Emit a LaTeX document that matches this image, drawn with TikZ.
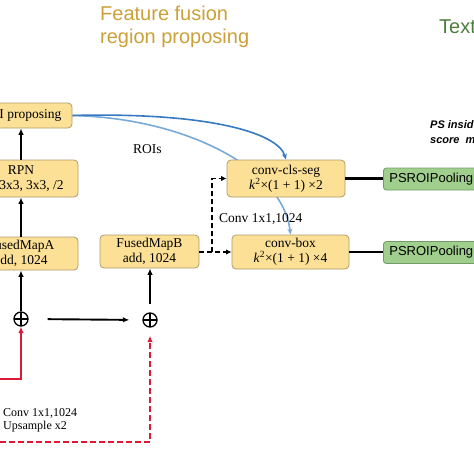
\documentclass[tikz,border=0pt]{standalone}
\usepackage{fontspec}
\setmainfont{Liberation Serif}
\newfontfamily\sansf{Liberation Sans}
\usetikzlibrary{arrows.meta,backgrounds}
\definecolor{boxfill}{RGB}{252,224,150}
\definecolor{boxdraw}{RGB}{175,155,110}
\definecolor{gfill}{RGB}{160,206,140}
\definecolor{gdraw}{RGB}{115,155,105}
\definecolor{titlegold}{RGB}{203,160,55}
\definecolor{titlegreen}{RGB}{75,125,60}
\definecolor{redline}{RGB}{220,25,55}
\definecolor{bluedark}{RGB}{55,122,195}
\definecolor{bluelight}{RGB}{120,170,215}
\begin{document}
\begin{tikzpicture}[x=1pt,y=-1pt,
  ybox/.style={draw=boxdraw, fill=boxfill, rounded corners=4pt, line width=0.8pt,
    align=center, font=\fontsize{13.5}{15}\selectfont, inner sep=0pt},
  gbox/.style={draw=gdraw, fill=gfill, rounded corners=3pt, line width=0.8pt,
    font=\sansf\fontsize{13}{15}\selectfont, anchor=west, minimum height=22pt,
    inner xsep=6pt, inner ysep=0pt},
  arr/.style={-{Latex[length=6.5pt,width=5.5pt]}, line width=1.9pt},
  darr/.style={-{Latex[length=5.5pt,width=5.5pt]}, line width=1.9pt, dash pattern=on 5pt off 3pt},
  redarr/.style={-{Latex[length=6.5pt,width=5.5pt]}, line width=1.9pt, draw=redline},
  curvedark/.style={-{Stealth[length=6pt,width=5pt]}, line width=1.6pt, draw=bluedark},
  curvelight/.style={-{Stealth[length=6pt,width=5pt]}, line width=1.6pt, draw=bluelight},
  opl/.style={circle, draw, line width=1.3pt, minimum size=14pt, inner sep=0pt,
    path picture={\draw[line width=1.3pt] (path picture bounding box.north) -- (path picture bounding box.south)
      (path picture bounding box.west) -- (path picture bounding box.east);}},
  lbl/.style={anchor=base west, inner sep=0pt, font=\fontsize{13.5}{15}\selectfont},
  title/.style={anchor=base west, inner sep=0pt, font=\sansf\fontsize{20}{23}\selectfont}
]
\useasboundingbox (0,0) rectangle (474,474);

% titles
\node[title, text=titlegold] (t1) at (100,20) {Feature fusion};
\node[title, text=titlegold] (t2) at (100,43) {region proposing};
\node[title, text=titlegreen] (t3) at (439,33) {Text};
\node[anchor=base west, inner sep=0pt, font=\sansf\bfseries\itshape\fontsize{11}{13}\selectfont] (ps1t) at (430,128) {PS inside};
\node[anchor=base west, inner sep=0pt, font=\sansf\bfseries\itshape\fontsize{11}{13}\selectfont] (ps2t) at (430,143) {score\ \ map};

% boxes
\node[ybox, minimum width=102pt, minimum height=25pt] (roi) at (21,115.5) {ROI proposing};
\node[ybox, minimum width=114pt, minimum height=37pt] (rpn) at (21,178.5) {RPN\\\hspace*{21pt}3x3, 3x3, /2};
\node[ybox, minimum width=114pt, minimum height=33pt] (fma) at (21,253.5) {FusedMapA\\add, 1024};
\node[ybox, minimum width=99pt, minimum height=33pt] (fmb) at (149.5,251.5) {FusedMapB\\add, 1024};
\node[ybox, minimum width=118pt, minimum height=37pt] (cls) at (286,178.5) {conv-cls-seg\\\textit{k}\textsuperscript{2}×(1 + 1) ×2};
\node[ybox, minimum width=117pt, minimum height=34pt] (cbox) at (290.5,252) {conv-box\\\textit{k}\textsuperscript{2}×(1 + 1) ×4};
\node[gbox] (ps1) at (383,179) {PSROIPooling};
\node[gbox] (ps2) at (383,252.5) {PSROIPooling};

% oplus
\node[opl] (op1) at (21,319) {};
\node[opl] (op2) at (150,320) {};

% labels
\node[lbl] (rois) at (133,153) {ROIs};
\node[lbl] (c11) at (219,222) {Conv 1x1,1024};
\node[anchor=base west, inner sep=0pt, font=\fontsize{12}{14}\selectfont] (c12) at (3,416) {Conv 1x1,1024};
\node[anchor=base west, inner sep=0pt, font=\fontsize{12}{14}\selectfont] (ups) at (3,429) {Upsample x2};

% connectors
\draw[arr] (rpn.north) -- (roi.south);
\draw[arr] (fma.north) -- (rpn.south);
\draw[arr] (op1.north) -- (fma.south);
\draw[arr, shorten <=19pt, shorten >=13pt] (op1.east) -- (op2.west);
\draw[arr, shorten <=8pt] (op2.north) -- (op2.north |- fmb.south);

\coordinate (r1) at (0,379);
\coordinate (r2) at (0,442);
\draw[redarr] (r1) -| (op1.south);
\draw[redarr, dash pattern=on 6pt off 3pt, shorten >=8pt] (r2) -| (op2.south);

\coordinate (j) at (212,252);
\draw[darr] (fmb.east |- j) -- (j -| cbox.west);
\draw[darr] (j) |- (cls.west);

\draw[line width=2.2pt] (cls.east) -- (cls.east -| ps1.west);
\draw[line width=2.2pt] (cbox.east) -- (cbox.east -| ps2.west);

\begin{scope}[on background layer]
\draw[curvelight] (roi.east) .. controls (185,118) and (283,168) .. (cbox.north);
\draw[curvedark] (roi.east) .. controls (205,112) and (278,132) .. (cls.north);
\end{scope}
\end{tikzpicture}
\end{document}
